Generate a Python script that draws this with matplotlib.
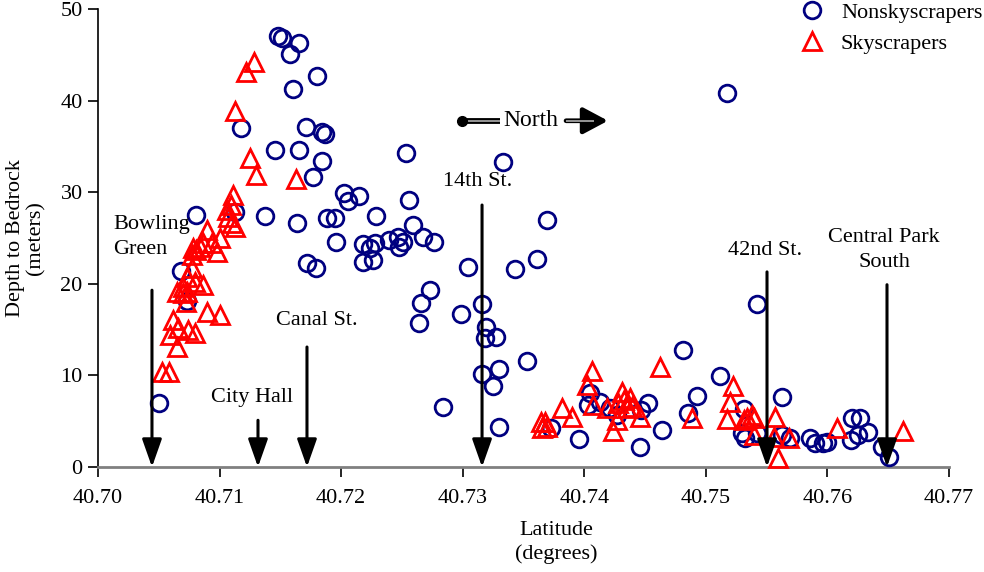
import matplotlib
matplotlib.use("Agg")
import matplotlib.pyplot as plt

plt.rcParams['font.family'] = ['Liberation Serif', 'DejaVu Serif']

# Nonskyscrapers (circles)
non_lat = [40.7050, 40.7068, 40.7073, 40.7081, 40.7113, 40.7118, 40.7137, 40.7146,
           40.7148, 40.7151, 40.7165, 40.7158, 40.7180, 40.7160, 40.7171, 40.7184,
           40.7187, 40.7165, 40.7184, 40.7177, 40.7202, 40.7206, 40.7215, 40.7164,
           40.7188, 40.7195, 40.7196, 40.7172, 40.7179, 40.7253, 40.7256, 40.7229,
           40.7259, 40.7218, 40.7228, 40.7224, 40.7239, 40.7247, 40.7251, 40.7248,
           40.7267, 40.7276, 40.7218, 40.7226, 40.7304, 40.7333, 40.7343, 40.7361,
           40.7369, 40.7273, 40.7266, 40.7264, 40.7299, 40.7316, 40.7319, 40.7318,
           40.7327, 40.7316, 40.7330, 40.7325, 40.7353, 40.7284, 40.7330, 40.7373,
           40.7396, 40.7405, 40.7403, 40.7413, 40.7421, 40.7427, 40.7452, 40.7447,
           40.7464, 40.7446, 40.7481, 40.7512, 40.7493, 40.7485, 40.7517, 40.7542,
           40.7531, 40.7530, 40.7532, 40.7542, 40.7563, 40.7563, 40.7569, 40.7586,
           40.7590, 40.7596, 40.7600, 40.7620, 40.7627, 40.7619, 40.7625, 40.7633,
           40.7645, 40.7651]
non_depth = [7.0, 21.4, 18.1, 27.5, 27.8, 37.0, 27.4, 34.6,
             47.1, 46.8, 46.3, 45.1, 42.7, 41.3, 37.1, 36.6,
             36.4, 34.6, 33.4, 31.7, 29.9, 29.0, 29.6, 26.6,
             27.2, 27.2, 24.6, 22.3, 21.7, 34.3, 29.1, 27.4,
             26.4, 24.3, 24.5, 23.9, 24.8, 25.1, 24.6, 24.0,
             25.1, 24.6, 22.4, 22.6, 21.8, 33.3, 21.6, 22.7,
             27.0, 19.3, 17.9, 15.7, 16.7, 17.8, 15.3, 14.1,
             14.2, 10.2, 10.7, 8.8, 11.6, 6.6, 4.4, 4.3,
             3.1, 8.1, 6.8, 7.1, 6.4, 5.7, 7.0, 6.2,
             4.0, 2.2, 12.8, 9.9, 7.8, 5.9, 40.8, 17.8,
             6.3, 3.7, 3.2, 3.7, 7.6, 3.5, 3.2, 3.2,
             2.6, 2.6, 2.7, 5.3, 5.3, 2.9, 3.5, 3.8,
             2.2, 1.1]

# Skyscrapers (triangles)
sky_lat = [40.7128, 40.7122, 40.7113, 40.7125, 40.7130, 40.7163, 40.7111, 40.7109,
           40.7106, 40.7107, 40.7110, 40.7113, 40.7090, 40.7100, 40.7094, 40.7086,
           40.7084, 40.7098, 40.7078, 40.7077, 40.7081, 40.7077, 40.7073, 40.7080,
           40.7086, 40.7070, 40.7070, 40.7073, 40.7065, 40.7072, 40.7090, 40.7100,
           40.7062, 40.7066, 40.7059, 40.7074, 40.7080, 40.7065, 40.7053, 40.7058,
           40.7406, 40.7402, 40.7407, 40.7382, 40.7390, 40.7364, 40.7368, 40.7369,
           40.7365, 40.7419, 40.7431, 40.7428, 40.7433, 40.7438, 40.7439, 40.7435,
           40.7427, 40.7424, 40.7446, 40.7462, 40.7489, 40.7522, 40.7520, 40.7517,
           40.7538, 40.7534, 40.7540, 40.7531, 40.7540, 40.7557, 40.7556, 40.7568,
           40.7559, 40.7608, 40.7662]
sky_depth = [44.2, 43.1, 38.9, 33.7, 31.9, 31.4, 29.7, 28.6,
             28.1, 27.3, 26.6, 26.2, 25.9, 25.0, 24.5, 24.5,
             24.0, 23.5, 23.9, 23.1, 23.7, 21.7, 20.7, 20.2,
             19.9, 19.7, 19.0, 19.1, 19.1, 18.0, 16.9, 16.6,
             16.0, 15.2, 14.4, 15.0, 14.6, 13.1, 10.4, 10.4,
             10.5, 9.0, 6.8, 6.4, 5.5, 4.9, 4.9, 4.4,
             4.3, 6.4, 8.2, 7.0, 7.3, 7.5, 6.6, 6.4,
             5.1, 3.9, 5.5, 10.9, 5.3, 8.8, 7.1, 5.2,
             5.7, 5.3, 5.3, 5.1, 3.5, 5.5, 3.3, 3.2,
             1.0, 4.3, 3.9]

# street labels: (text, arrow latitude, arrow top, text latitude, text depth, align)
streets = [
    ("Bowling\nGreen", 40.70444, 19.3, 40.70123, 25.1, 'left'),
    ("City Hall", 40.71316, 5.1, 40.71267, 7.6, 'center'),
    ("Canal St.", 40.71719, 13.1, 40.71801, 16.0, 'center'),
    ("14th St.", 40.73159, 28.6, 40.73126, 31.2, 'center'),
    ("42nd St.", 40.75503, 21.3, 40.75487, 23.6, 'center'),
    ("Central Park\nSouth", 40.76490, 19.9, 40.76465, 23.7, 'center'),
]

fs = 16

fig = plt.figure(figsize=(9.84, 5.72), dpi=100)
ax = fig.add_axes([98 / 984, 1 - 467 / 572, 851 / 984, 458 / 572])

ax.plot(non_lat, non_depth, linestyle='none', marker='o', markersize=12,
        markerfacecolor='none', markeredgecolor='#000080', markeredgewidth=2,
        label='Nonskyscrapers', clip_on=False, zorder=3)
ax.plot(sky_lat, sky_depth, linestyle='none', marker='^', markersize=12.5,
        markerfacecolor='none', markeredgecolor='#ff0000', markeredgewidth=2,
        label='Skyscrapers', clip_on=False, zorder=4)

for name, x, top, tx, ty, ha in streets:
    ax.annotate('', xy=(x, 0), xytext=(x, top),
                arrowprops=dict(arrowstyle='-|>,head_length=0.85,head_width=0.3',
                                color='black', lw=2.2, shrinkA=0, shrinkB=0,
                                mutation_scale=20),
                annotation_clip=False, zorder=5)
    ax.text(tx, ty, name, ha=ha, va='center', fontsize=fs, linespacing=1.45,
            color='black', zorder=6)

# North indicator
ax.plot([40.72994, 40.73307], [37.8, 37.8], color='black', lw=4.2, solid_capstyle='butt', zorder=5)
ax.plot([40.72994, 40.73307], [37.8, 37.8], color='#b0b0b0', lw=1.2, solid_capstyle='butt', zorder=6)
ax.plot([40.72994], [37.8], marker='o', markersize=7, color='black', zorder=7)
ax.text(40.73562, 37.8, 'North', ha='center', va='center', fontsize=fs + 1, color='black')
ax.annotate('', xy=(40.74195, 37.8), xytext=(40.73850, 37.8),
            arrowprops=dict(arrowstyle='-|>,head_length=0.75,head_width=0.4',
                            color='black', lw=3.4, shrinkA=0, shrinkB=0,
                            mutation_scale=20), zorder=5)
ax.plot([40.73850, 40.74080], [37.8, 37.8], color='#b0b0b0', lw=1.2, solid_capstyle='butt', zorder=6)

ax.set_xlim(40.70, 40.77)
ax.set_ylim(0, 50)
ax.set_xticks([40.70, 40.71, 40.72, 40.73, 40.74, 40.75, 40.76, 40.77])
ax.set_xticklabels(['%.2f' % v for v in ax.get_xticks()])
ax.set_yticks([0, 10, 20, 30, 40, 50])
ax.tick_params(axis='both', labelsize=fs, direction='out', length=7, width=1.2,
               labelcolor='black')
ax.tick_params(axis='x', pad=9)
ax.tick_params(axis='y', pad=4)

ax.spines['top'].set_visible(False)
ax.spines['right'].set_visible(False)
ax.spines['left'].set_linewidth(1.2)
ax.spines['bottom'].set_color('#808080')
ax.spines['bottom'].set_linewidth(2)

ax.set_xlabel('Latitude\n(degrees)', fontsize=fs, linespacing=1.3, color='black')
ax.xaxis.set_label_coords(0.539, -0.118)
ax.set_ylabel('Depth to Bedrock\n(meters)', fontsize=fs, linespacing=1.1, color='black')
ax.yaxis.set_label_coords(-0.062, 0.5)

fig.legend(loc='upper left', bbox_to_anchor=(801 / 984, 1 - 2 / 572), frameon=False,
           fontsize=fs, handlelength=1.0, handletextpad=0.8, labelspacing=0.5,
           borderpad=0, borderaxespad=0)

fig.savefig('out.png', dpi=100)
